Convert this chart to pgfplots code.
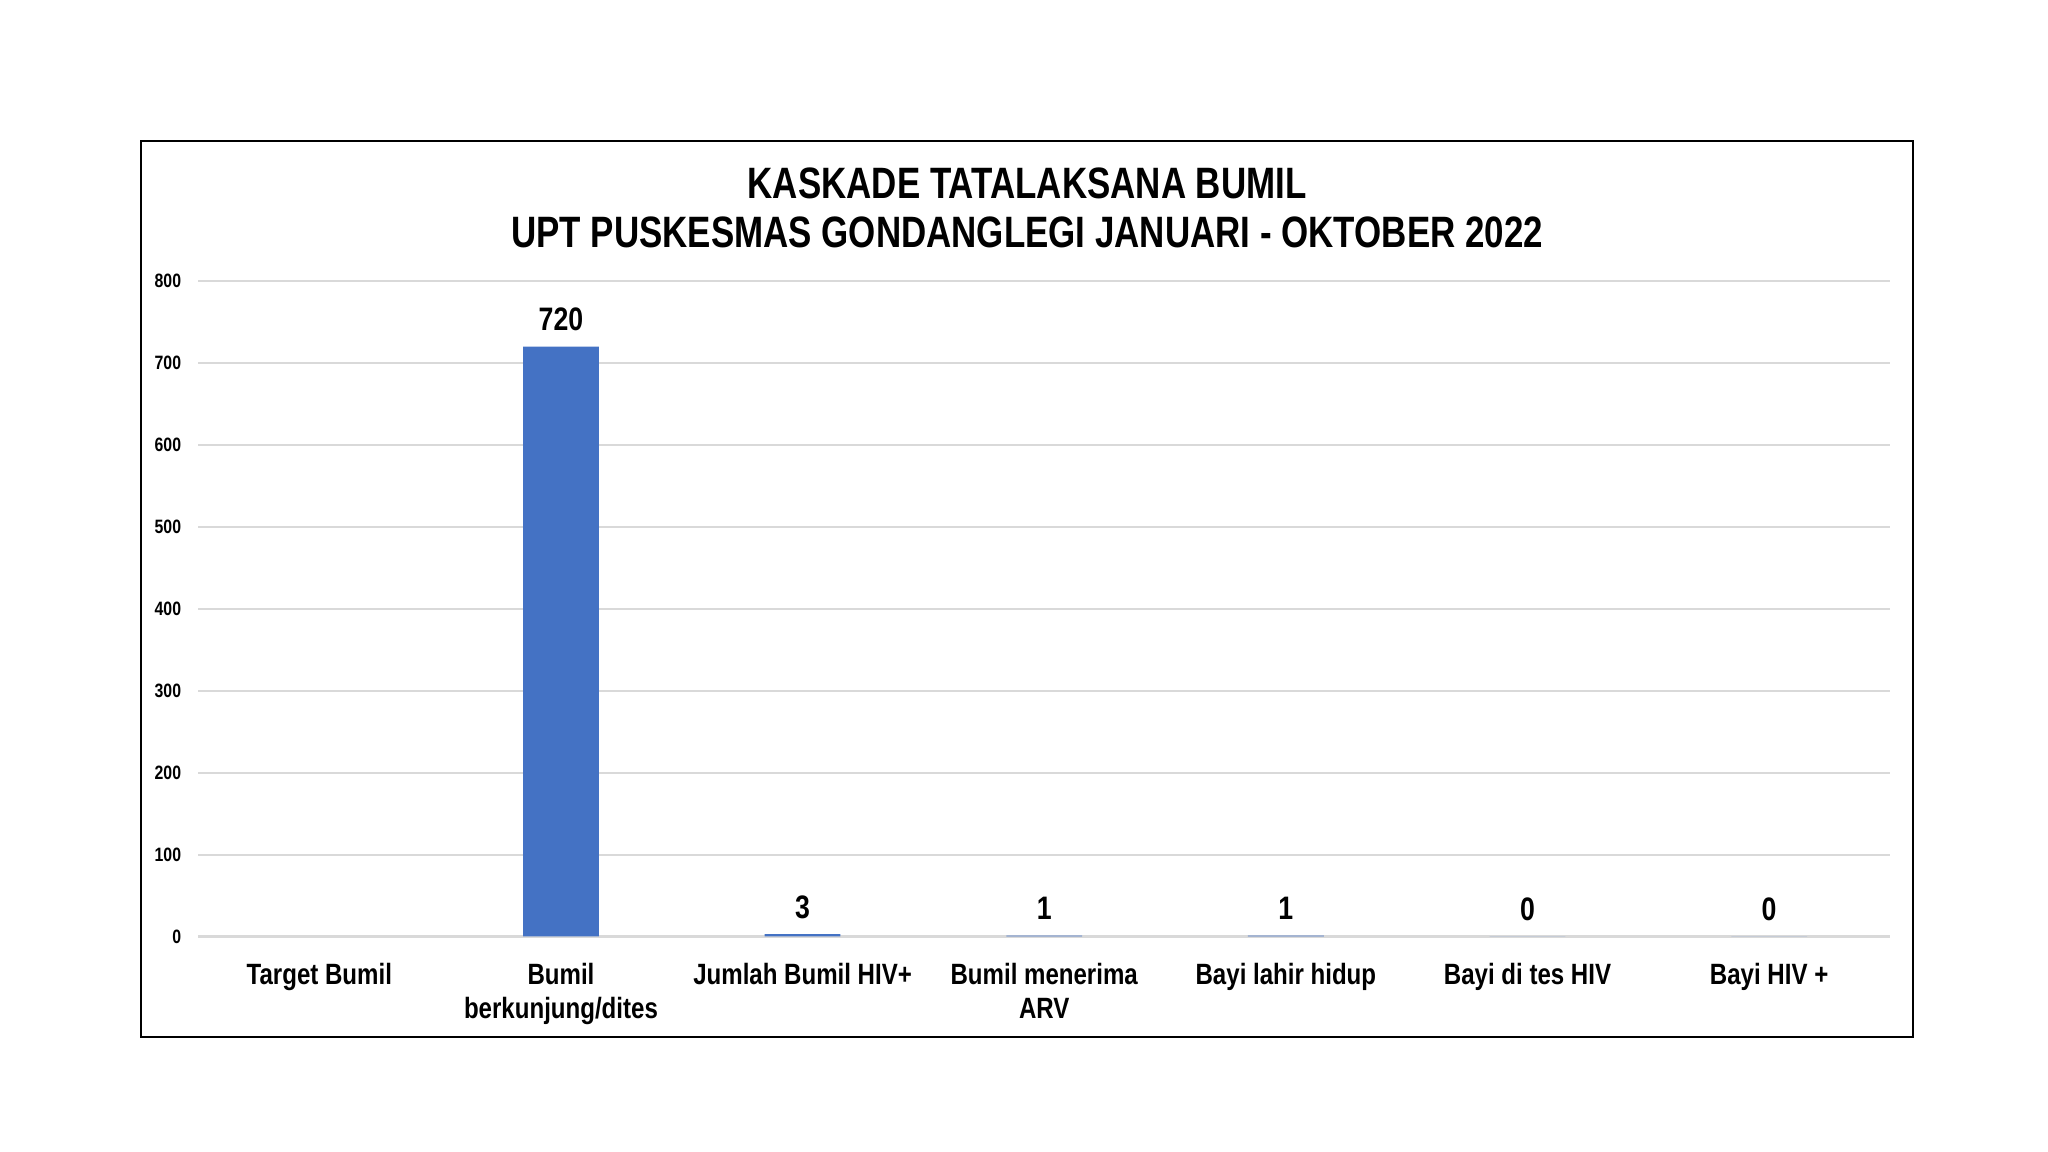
\documentclass[border=0pt]{standalone}
\usepackage{fontspec}
\setmainfont{Liberation Sans}[FakeStretch=0.82]
\newfontfamily\titlefont{Liberation Sans}[FakeStretch=0.795]
\usepackage{pgfplots}
\pgfplotsset{compat=1.18}
\definecolor{barblue}{HTML}{4472C4}
\definecolor{gridgray}{HTML}{D9D9D9}

\begin{document}
\bfseries
\begin{tikzpicture}
% page and outer frame (1 px of the reference = 0.01cm)
\fill[white] (-1.985,-2.155) rectangle (18.495,9.365);
\draw[black, line width=0.6pt] (-0.575,-1.005) rectangle (17.145,7.955);
\begin{axis}[
    at={(0,0)}, anchor=south west,
    scale only axis, width=16.915cm, height=6.555cm,
    clip mode=individual,
    xmin=-0.5, xmax=6.5, ymin=0, ymax=800,
    xtick={0,...,6},
    xticklabels={{Target Bumil}, {Bumil\\berkunjung/dites}, {Jumlah Bumil HIV+},
                 {Bumil menerima\\ARV}, {Bayi lahir hidup}, {Bayi di tes HIV}, {Bayi HIV +}},
    ytick={0,100,...,800},
    ymajorgrids, grid style={gridgray, line width=0.6pt},
    axis line style={draw=none}, major tick length=0pt,
    /pgf/number format/assume math mode=true,
    yticklabel style={font=\fontsize{5.5}{6.5}\selectfont, xshift=-0.05cm},
    xticklabel style={font=\fontsize{8.35}{9.7}\selectfont, align=center,
                      anchor=north, yshift=-0.14cm},
]
\addplot[ybar, bar width=0.758cm, fill=barblue, draw=none,
    nodes near coords,
    nodes near coords style={font=\fontsize{9.25}{11}\selectfont,
                             inner sep=0pt, anchor=base, yshift=0.16cm}]
    coordinates {(1,720) (2,3) (3,1) (4,1) (5,0) (6,0)};
\node[anchor=base, font=\titlefont\bfseries\fontsize{12.5}{15}\selectfont, yshift=0.83cm]
    at (rel axis cs:0.4899,1) {KASKADE TATALAKSANA BUMIL};
\node[anchor=base, font=\titlefont\bfseries\fontsize{12.5}{15}\selectfont, yshift=0.34cm]
    at (rel axis cs:0.4899,1) {UPT PUSKESMAS GONDANGLEGI JANUARI - OKTOBER 2022};
\end{axis}
\end{tikzpicture}
\end{document}
